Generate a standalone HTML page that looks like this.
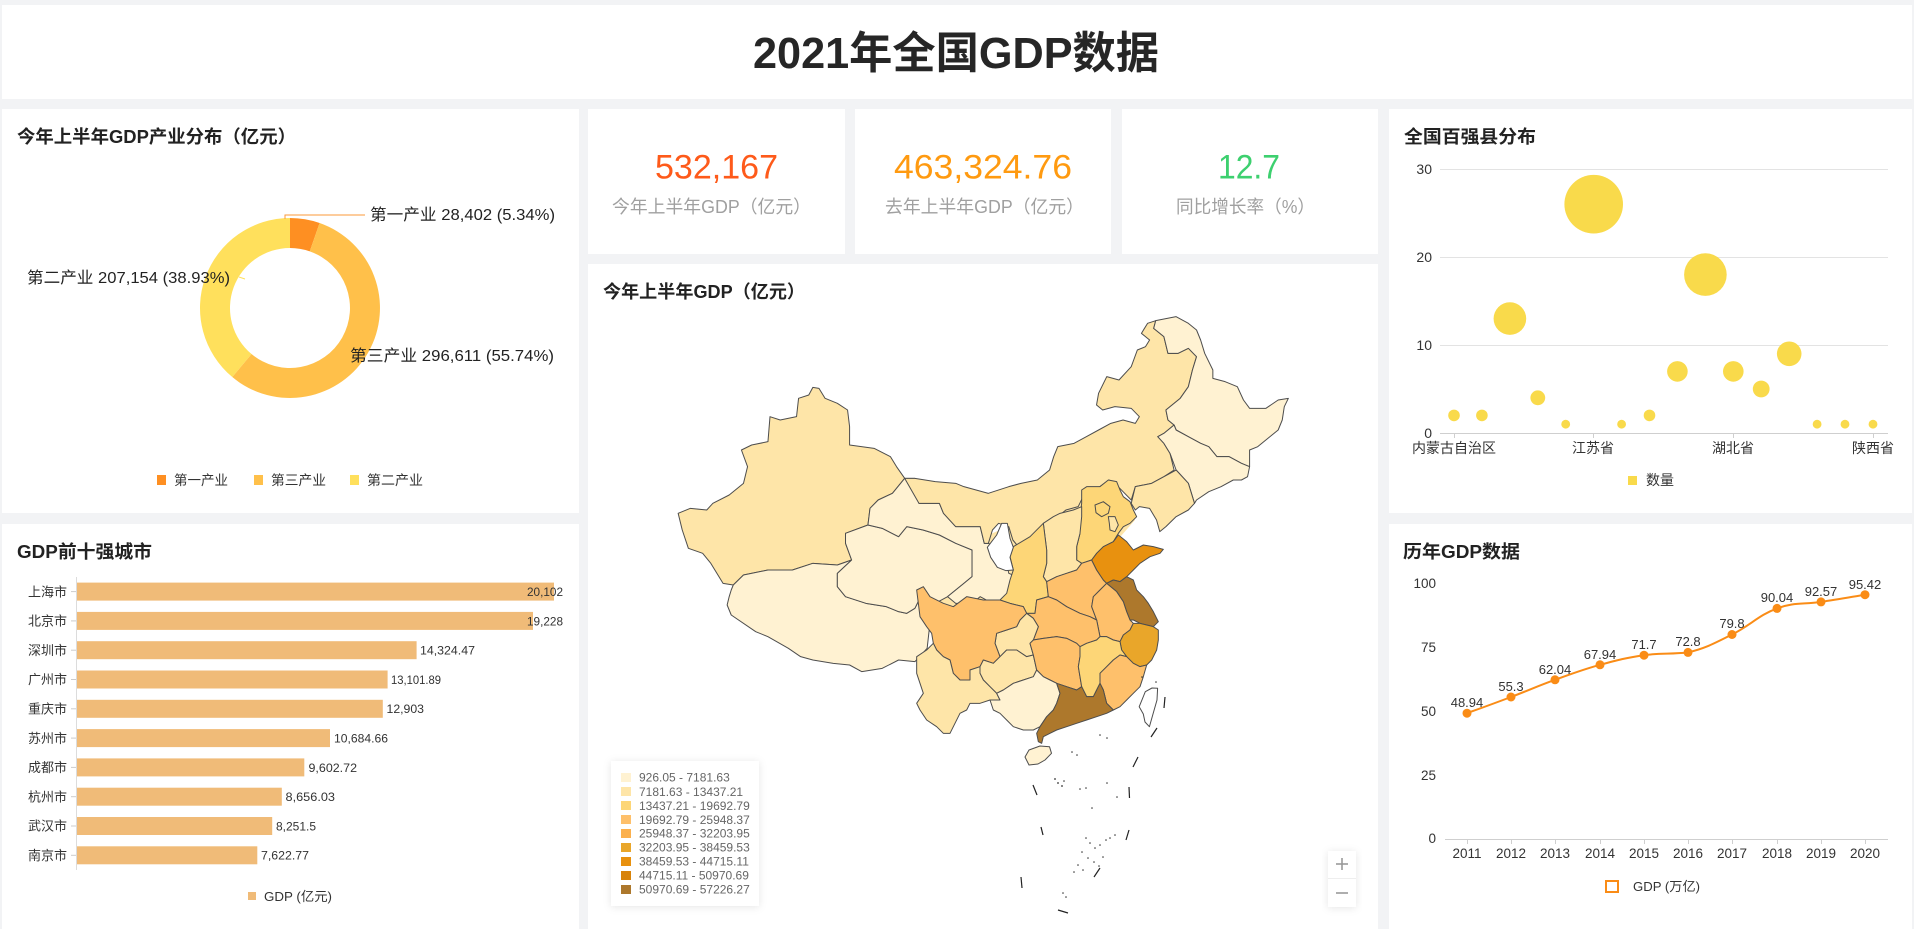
<!DOCTYPE html>
<html><head><meta charset="utf-8"><style>
html,body{margin:0;padding:0;background:#f2f3f5;}
svg{display:block}
text{font-family:"Liberation Sans","Noto Sans CJK SC",sans-serif;}
.p{stroke:#4d4d4d;stroke-width:1;vector-effect:non-scaling-stroke;stroke-linejoin:round}
.l1{fill:#fff2d2}.l2{fill:#fee5a8}.l3{fill:#fdd677}.l4{fill:#fec06b}.l6{fill:#e9a62a}.l7{fill:#e8910f}.l9{fill:#ad782c}
</style></head><body>
<svg width="1914" height="929" viewBox="0 0 1914 929" xmlns="http://www.w3.org/2000/svg">
<defs>
<filter id="sh" x="-20%" y="-20%" width="140%" height="140%"><feDropShadow dx="0" dy="1" stdDeviation="4" flood-color="#000" flood-opacity="0.1"/></filter>
</defs>
<rect width="1914" height="929" fill="#f2f3f5"/>
<!-- panels -->
<rect x="2" y="5" width="1910" height="94" fill="#fff"/>
<rect x="2" y="109" width="577" height="404" fill="#fff"/>
<rect x="588" y="109" width="257" height="145" fill="#fff"/>
<rect x="855" y="109" width="256" height="145" fill="#fff"/>
<rect x="1122" y="109" width="256" height="145" fill="#fff"/>
<rect x="1389" y="109" width="523" height="404" fill="#fff"/>
<rect x="588" y="264" width="790" height="670" fill="#fff"/>
<rect x="2" y="524" width="577" height="410" fill="#fff"/>
<rect x="1389" y="524" width="523" height="410" fill="#fff"/>

<!-- header -->
<text x="753" y="68" font-size="44" font-weight="bold" fill="#262626" textLength="406" lengthAdjust="spacingAndGlyphs">2021年全国GDP数据</text>

<!-- panel titles -->
<text x="17" y="143" font-size="18" font-weight="bold" fill="#222" textLength="279" lengthAdjust="spacingAndGlyphs">今年上半年GDP产业分布（亿元）</text>
<text x="603" y="298" font-size="18" font-weight="bold" fill="#222" textLength="202" lengthAdjust="spacingAndGlyphs">今年上半年GDP（亿元）</text>
<text x="1404" y="143" font-size="18" font-weight="bold" fill="#222" textLength="132" lengthAdjust="spacingAndGlyphs">全国百强县分布</text>
<text x="17" y="558" font-size="18" font-weight="bold" fill="#222" textLength="135" lengthAdjust="spacingAndGlyphs">GDP前十强城市</text>
<text x="1403" y="558" font-size="18" font-weight="bold" fill="#222" textLength="117" lengthAdjust="spacingAndGlyphs">历年GDP数据</text>

<!-- KPI -->
<text x="655" y="178.5" font-size="34" fill="#fe5a1a" textLength="123" lengthAdjust="spacingAndGlyphs">532,167</text>
<text x="612" y="213" font-size="18" fill="#a0a0a0" textLength="199" lengthAdjust="spacingAndGlyphs">今年上半年GDP（亿元）</text>
<text x="894" y="178.5" font-size="34" fill="#ff9a10" textLength="178" lengthAdjust="spacingAndGlyphs">463,324.76</text>
<text x="885" y="213" font-size="18" fill="#a0a0a0" textLength="199" lengthAdjust="spacingAndGlyphs">去年上半年GDP（亿元）</text>
<text x="1218" y="178.5" font-size="34" fill="#3dd06f" textLength="62" lengthAdjust="spacingAndGlyphs">12.7</text>
<text x="1176" y="213" font-size="18" fill="#a0a0a0" textLength="139" lengthAdjust="spacingAndGlyphs">同比增长率（%）</text>

<!-- donut -->
<path d="M290,218 A90,90 0 0 1 319.63,223.01 L309.75,251.34 A60,60 0 0 0 290,248 Z" fill="#fe8f22"/>
<path d="M319.63,223.01 A90,90 0 1 1 232.28,377.06 L251.52,354.04 A60,60 0 1 0 309.75,251.34 Z" fill="#ffc04a"/>
<path d="M232.28,377.06 A90,90 0 0 1 290,218 L290,248 A60,60 0 0 0 251.52,354.04 Z" fill="#ffe05c"/>
<polyline points="285,219 285,215 365,215" fill="none" stroke="#fb9a3a" stroke-width="1"/>
<line x1="239" y1="277" x2="245" y2="279" stroke="#ffe05c" stroke-width="1"/>
<text x="370" y="220" font-size="16" fill="#222" textLength="185" lengthAdjust="spacingAndGlyphs">第一产业 28,402 (5.34%)</text>
<text x="350" y="361" font-size="16" fill="#222" textLength="204" lengthAdjust="spacingAndGlyphs">第三产业 296,611 (55.74%)</text>
<text x="27" y="283" font-size="16" fill="#222" textLength="203" lengthAdjust="spacingAndGlyphs">第二产业 207,154 (38.93%)</text>
<rect x="157" y="475" width="9" height="10" fill="#fe8f22"/>
<text x="174" y="485" font-size="13.5" fill="#333" textLength="54" lengthAdjust="spacingAndGlyphs">第一产业</text>
<rect x="254" y="475" width="9" height="10" fill="#ffc04a"/>
<text x="271" y="485" font-size="13.5" fill="#333" textLength="55" lengthAdjust="spacingAndGlyphs">第三产业</text>
<rect x="350" y="475" width="9" height="10" fill="#ffe05c"/>
<text x="367" y="485" font-size="13.5" fill="#333" textLength="56" lengthAdjust="spacingAndGlyphs">第二产业</text>

<!-- scatter chart -->
<g stroke="#e3e3e3" stroke-width="1">
<line x1="1440" y1="169.5" x2="1888" y2="169.5"/>
<line x1="1440" y1="257.5" x2="1888" y2="257.5"/>
<line x1="1440" y1="345.5" x2="1888" y2="345.5"/>
</g>
<line x1="1440" y1="433.5" x2="1888" y2="433.5" stroke="#cfcfcf" stroke-width="1"/>
<g stroke="#cfcfcf" stroke-width="1">
<line x1="1454.5" y1="433" x2="1454.5" y2="438"/>
<line x1="1593.5" y1="433" x2="1593.5" y2="438"/>
<line x1="1733.5" y1="433" x2="1733.5" y2="438"/>
<line x1="1873.5" y1="433" x2="1873.5" y2="438"/>
</g>
<g font-size="14" fill="#333" text-anchor="end">
<text x="1432" y="174">30</text>
<text x="1432" y="262">20</text>
<text x="1432" y="350">10</text>
<text x="1432" y="438">0</text>
</g>
<g font-size="14" fill="#333" text-anchor="middle">
<text x="1454" y="453">内蒙古自治区</text>
<text x="1593" y="453">江苏省</text>
<text x="1733" y="453">湖北省</text>
<text x="1873" y="453">陕西省</text>
</g>
<g fill="#f9da4b">
<circle cx="1454" cy="415.4" r="5.8"/>
<circle cx="1481.9" cy="415.4" r="5.8"/>
<circle cx="1509.9" cy="318.6" r="16.3"/>
<circle cx="1537.8" cy="397.8" r="7.4"/>
<circle cx="1565.7" cy="424.2" r="4.4"/>
<circle cx="1593.7" cy="204.2" r="29.3"/>
<circle cx="1621.6" cy="424.2" r="4.4"/>
<circle cx="1649.5" cy="415.4" r="5.8"/>
<circle cx="1677.4" cy="371.4" r="10.3"/>
<circle cx="1705.4" cy="274.6" r="21.3"/>
<circle cx="1733.3" cy="371.4" r="10.3"/>
<circle cx="1761.2" cy="389" r="8.4"/>
<circle cx="1789.2" cy="353.8" r="12.3"/>
<circle cx="1817.1" cy="424.2" r="4.4"/>
<circle cx="1845" cy="424.2" r="4.4"/>
<circle cx="1873" cy="424.2" r="4.4"/>
</g>
<rect x="1628" y="476" width="9" height="9" fill="#f9da4b"/>
<text x="1646" y="485" font-size="14" fill="#333">数量</text>

<!-- bar chart -->
<line x1="76.5" y1="577" x2="76.5" y2="870" stroke="#dcdcdc" stroke-width="1"/>
<g fill="#f0bb78">
<rect x="77" y="582.6" width="477" height="18"/>
<rect x="77" y="611.9" width="456" height="18"/>
<rect x="77" y="641.2" width="339.6" height="18"/>
<rect x="77" y="670.5" width="310.6" height="18"/>
<rect x="77" y="699.8" width="305.8" height="18"/>
<rect x="77" y="729.1" width="253" height="18"/>
<rect x="77" y="758.4" width="227.3" height="18"/>
<rect x="77" y="787.7" width="204.8" height="18"/>
<rect x="77" y="817" width="195.2" height="18"/>
<rect x="77" y="846.3" width="180.3" height="18"/>
</g>
<g stroke="#ccc" stroke-width="1">
<line x1="71" y1="591.6" x2="76" y2="591.6"/><line x1="71" y1="620.9" x2="76" y2="620.9"/><line x1="71" y1="650.2" x2="76" y2="650.2"/><line x1="71" y1="679.5" x2="76" y2="679.5"/><line x1="71" y1="708.8" x2="76" y2="708.8"/><line x1="71" y1="738.1" x2="76" y2="738.1"/><line x1="71" y1="767.4" x2="76" y2="767.4"/><line x1="71" y1="796.7" x2="76" y2="796.7"/><line x1="71" y1="826" x2="76" y2="826"/><line x1="71" y1="855.3" x2="76" y2="855.3"/>
</g>
<g font-size="13" fill="#333" text-anchor="end">
<text x="67" y="596.3">上海市</text>
<text x="67" y="625.6">北京市</text>
<text x="67" y="654.9">深圳市</text>
<text x="67" y="684.2">广州市</text>
<text x="67" y="713.5">重庆市</text>
<text x="67" y="742.8">苏州市</text>
<text x="67" y="772.1">成都市</text>
<text x="67" y="801.4">杭州市</text>
<text x="67" y="830.7">武汉市</text>
<text x="67" y="860">南京市</text>
</g>
<g font-size="12" fill="#333">
<text x="527" y="596" textLength="36" lengthAdjust="spacingAndGlyphs">20,102</text>
<text x="527" y="625.3" textLength="36" lengthAdjust="spacingAndGlyphs">19,228</text>
<text x="420" y="654.6" textLength="55" lengthAdjust="spacingAndGlyphs">14,324.47</text>
<text x="391" y="683.9" textLength="50" lengthAdjust="spacingAndGlyphs">13,101.89</text>
<text x="386.5" y="713.2" textLength="37.5" lengthAdjust="spacingAndGlyphs">12,903</text>
<text x="334" y="742.5" textLength="54" lengthAdjust="spacingAndGlyphs">10,684.66</text>
<text x="308.5" y="771.8" textLength="48.5" lengthAdjust="spacingAndGlyphs">9,602.72</text>
<text x="285.5" y="801.1" textLength="49.5" lengthAdjust="spacingAndGlyphs">8,656.03</text>
<text x="276" y="830.4" textLength="40" lengthAdjust="spacingAndGlyphs">8,251.5</text>
<text x="261" y="859.7" textLength="48" lengthAdjust="spacingAndGlyphs">7,622.77</text>
</g>
<rect x="248" y="892" width="8" height="8" fill="#f0bb78"/>
<text x="264" y="901" font-size="13" fill="#333" textLength="68" lengthAdjust="spacingAndGlyphs">GDP (亿元)</text>

<!-- line chart -->
<line x1="1445" y1="839.5" x2="1888" y2="839.5" stroke="#cfcfcf" stroke-width="1"/>
<g stroke="#cfcfcf" stroke-width="1">
<line x1="1467.5" y1="839" x2="1467.5" y2="844"/><line x1="1511.5" y1="839" x2="1511.5" y2="844"/><line x1="1555.5" y1="839" x2="1555.5" y2="844"/><line x1="1600.5" y1="839" x2="1600.5" y2="844"/><line x1="1644.5" y1="839" x2="1644.5" y2="844"/><line x1="1688.5" y1="839" x2="1688.5" y2="844"/><line x1="1732.5" y1="839" x2="1732.5" y2="844"/><line x1="1777.5" y1="839" x2="1777.5" y2="844"/><line x1="1821.5" y1="839" x2="1821.5" y2="844"/><line x1="1865.5" y1="839" x2="1865.5" y2="844"/>
</g>
<g font-size="13.5" fill="#333" text-anchor="end">
<text x="1436" y="588">100</text>
<text x="1436" y="652">75</text>
<text x="1436" y="716">50</text>
<text x="1436" y="780">25</text>
<text x="1436" y="843">0</text>
</g>
<g font-size="13.5" fill="#333" text-anchor="middle">
<text x="1467" y="858">2011</text><text x="1511" y="858">2012</text><text x="1555" y="858">2013</text><text x="1600" y="858">2014</text><text x="1644" y="858">2015</text><text x="1688" y="858">2016</text><text x="1732" y="858">2017</text><text x="1777" y="858">2018</text><text x="1821" y="858">2019</text><text x="1865" y="858">2020</text>
</g>
<path d="M1467,713.2 C1475.8,710 1493.4,703.7 1511,697 C1528.6,690.3 1537.2,686.2 1555,679.8 C1572.8,673.4 1582.2,669.7 1600,664.8 C1617.8,659.9 1626.4,657.7 1644,655.2 C1661.6,652.7 1670.4,654.5 1688,652.4 C1705.6,648.3 1714.2,643.3 1732,634.5 C1749.8,625.7 1759.2,614.9 1777,608.4 C1794.8,601.9 1803.4,604.6 1821,601.9 C1838.6,599.2 1856.2,596.1 1865,594.7" fill="none" stroke="#fa8c16" stroke-width="2"/>
<g fill="#fa8c16">
<circle cx="1467" cy="713.2" r="4.5"/><circle cx="1511" cy="697" r="4.5"/><circle cx="1555" cy="679.8" r="4.5"/><circle cx="1600" cy="664.8" r="4.5"/><circle cx="1644" cy="655.2" r="4.5"/><circle cx="1688" cy="652.4" r="4.5"/><circle cx="1732" cy="634.5" r="4.5"/><circle cx="1777" cy="608.4" r="4.5"/><circle cx="1821" cy="601.9" r="4.5"/><circle cx="1865" cy="594.7" r="4.5"/>
</g>
<g font-size="13" fill="#333" text-anchor="middle">
<text x="1467" y="707">48.94</text><text x="1511" y="691">55.3</text><text x="1555" y="674">62.04</text><text x="1600" y="659">67.94</text><text x="1644" y="649">71.7</text><text x="1688" y="646">72.8</text><text x="1732" y="628">79.8</text><text x="1777" y="602">90.04</text><text x="1821" y="596">92.57</text><text x="1865" y="589">95.42</text>
</g>
<rect x="1606" y="881" width="12" height="11" fill="none" stroke="#fa8c16" stroke-width="2"/>
<text x="1633" y="891" font-size="13" fill="#333" textLength="67" lengthAdjust="spacingAndGlyphs">GDP (万亿)</text>

<!-- MAP -->
<polygon points="930,560 1000,530 1050,520 1090,490 1120,500 1135,520 1100,560 1060,600 1000,640 960,640 930,610" fill="#fee5a8"/>
<g transform="translate(670,310) scale(0.408163,0.333333)">
<polygon class="p l2" points="350,232 365,235 380,265 410,280 435,300 440,350 440,405 500,415 540,440 555,470 575,505 545,550 510,570 490,595 485,645 430,670 430,700 445,750 410,765 350,760 300,780 240,780 180,795 155,825 130,820 100,760 80,730 45,715 30,660 20,610 50,595 90,600 105,580 145,555 180,520 190,470 175,420 200,405 240,395 245,320 270,330 310,320 315,265 340,255"/>
<polygon class="p l1" points="155,825 180,795 240,780 300,780 350,760 410,765 445,750 410,790 410,830 430,860 480,880 530,890 560,905 580,910 600,895 610,870 625,900 635,960 630,1015 600,1055 560,1050 520,1075 470,1085 440,1065 400,1060 350,1050 320,1040 290,1015 240,980 210,965 150,915 140,885 145,860 150,840"/>
<polygon class="p l1" points="445,750 430,700 430,670 485,645 520,655 560,680 580,650 620,660 660,675 700,700 740,720 740,800 720,820 700,840 680,860 650,880 630,870 610,870 600,895 580,910 560,905 530,890 480,880 430,860 410,830 410,790"/>
<polygon class="p l1" points="575,505 600,505 610,580 660,580 670,610 700,650 760,650 770,700 780,700 800,710 820,730 830,790 850,800 840,830 810,880 790,880 760,860 740,880 700,880 680,860 700,840 720,820 740,800 740,720 700,700 660,675 620,660 580,650 560,680 520,655 485,645 490,595 510,570 545,550"/>
<polygon class="p l2" points="575,505 600,505 650,515 700,520 720,530 780,550 830,530 860,520 900,510 930,480 940,440 950,410 990,400 1020,380 1050,360 1080,340 1110,330 1140,340 1150,320 1130,295 1090,290 1060,300 1045,285 1050,250 1070,200 1100,210 1130,170 1145,120 1165,110 1175,90 1155,70 1170,40 1190,32 1185,55 1210,80 1220,130 1245,130 1270,115 1290,140 1280,180 1270,230 1250,265 1215,300 1220,330 1235,345 1210,370 1195,380 1210,400 1225,430 1235,480 1210,500 1180,520 1140,530 1130,570 1110,545 1090,520 1075,510 1055,528 1040,545 1020,535 1010,565 1000,590 970,600 950,620 930,640 910,670 880,690 850,705 840,690 830,650 805,640 790,660 780,700 770,700 760,650 700,650 670,610 660,580 610,580"/>
<polygon class="p l1" points="1190,32 1240,20 1270,40 1290,60 1300,90 1310,130 1330,180 1330,205 1360,215 1390,230 1405,270 1420,295 1460,295 1490,270 1515,265 1505,290 1500,330 1490,360 1470,380 1440,410 1420,420 1420,470 1400,460 1370,440 1340,440 1320,410 1300,400 1270,380 1240,360 1235,345 1220,330 1215,300 1250,265 1270,230 1280,180 1290,140 1270,115 1245,130 1220,130 1210,80 1185,55"/>
<polygon class="p l1" points="1235,345 1240,360 1270,380 1300,400 1320,410 1340,440 1370,440 1400,460 1420,470 1415,500 1400,510 1380,510 1350,530 1320,545 1290,570 1285,580 1270,520 1240,480 1225,430 1210,400 1195,380 1210,370"/>
<polygon class="p l2" points="1240,480 1270,520 1285,580 1270,600 1240,620 1215,650 1200,665 1192,630 1175,595 1150,590 1140,600 1130,580 1140,530 1180,520 1210,500"/>
</g>
<g transform="translate(900,470) scale(0.333333)">
<polygon class="p l3" points="545,60 560,50 600,50 625,30 650,35 660,60 670,80 690,95 700,120 710,140 690,160 670,170 655,190 640,215 610,230 590,250 575,270 545,280 530,270 530,230 540,190 540,140 545,100"/>
<polygon class="p l3" points="585,105 610,95 630,110 625,130 605,140 588,128"/>
<polygon class="p l2" points="625,140 645,140 655,165 645,185 630,180 628,160"/>
<polygon class="p l2" points="430,160 460,140 480,130 520,120 545,110 545,140 540,190 530,230 530,270 545,280 530,300 500,310 470,320 440,335 430,320 440,280 440,240 435,200"/>
<polygon class="p l3" points="340,230 390,200 430,160 435,200 440,240 440,280 430,320 440,335 445,380 410,390 405,430 380,430 370,410 330,400 300,390 320,370 330,330 340,300 330,260"/>
<polygon class="p" fill="#fff" points="262,232 290,195 305,160 322,160 330,205 340,232 330,262 340,300 318,302 292,292 272,262"/>
<polygon class="p l4" points="440,335 470,320 500,310 530,300 545,280 575,270 590,300 610,330 620,340 600,360 580,380 575,410 590,450 570,440 540,430 500,410 470,390 445,380"/>
<polygon class="p l7" points="575,270 590,250 610,230 640,215 655,195 680,215 700,240 730,225 760,230 790,238 780,250 750,260 720,280 700,300 680,320 660,335 640,330 620,340 610,330 590,300"/>
<polygon class="p l9" points="620,340 640,330 660,335 680,320 700,330 710,360 730,380 745,400 760,425 775,455 760,470 740,465 720,460 700,450 690,450 680,425 670,395 650,365"/>
<polygon class="p l4" points="580,380 600,360 620,340 650,365 670,395 680,425 690,450 700,460 690,480 670,495 660,515 640,510 620,500 600,500 590,450 575,410"/>
<polygon class="p l6" points="660,515 670,495 690,480 700,460 720,460 740,465 760,470 775,480 775,510 770,540 755,570 740,585 720,590 700,580 680,560 665,540"/>
<polygon class="p l4" points="380,430 405,430 410,390 445,380 470,390 500,410 540,430 570,440 590,450 600,500 590,510 560,520 540,530 530,520 500,505 470,500 430,505 400,510 415,470 400,445"/>
<polygon class="p l2" points="290,490 320,480 350,470 360,450 380,430 400,445 415,470 400,510 390,520 400,555 380,560 350,540 320,540 300,560 285,520"/>
<polygon class="p l4" points="50,360 70,350 90,380 130,400 160,410 200,380 250,390 300,390 330,400 370,410 380,430 360,450 350,470 320,480 290,490 285,520 300,560 280,580 250,570 240,590 210,600 210,630 180,630 160,610 150,570 130,560 110,540 100,520 95,490 80,470 60,440 55,400"/>
<polygon class="p l2" points="240,590 250,570 280,580 300,560 320,540 350,540 380,560 400,555 410,600 400,620 370,630 340,640 310,660 290,670 270,650 250,630 240,610"/>
<polygon class="p l2" points="50,560 80,540 100,520 110,540 130,560 150,570 160,610 180,630 210,630 210,600 240,590 240,610 250,630 270,650 290,670 300,690 270,690 240,700 210,700 200,720 180,730 165,760 150,790 130,790 110,770 80,750 60,720 50,700 70,670 60,640 50,610"/>
<polygon class="p l4" points="400,510 430,505 470,500 500,505 530,520 540,530 540,560 535,590 540,620 545,650 530,660 500,650 470,640 450,630 430,620 410,600 400,555 390,520"/>
<polygon class="p l3" points="540,530 560,520 590,510 600,500 620,500 640,510 660,515 665,540 680,560 660,555 640,570 620,590 600,610 600,640 590,660 580,680 560,680 545,650 540,620 535,590 540,560"/>
<polygon class="p l4" points="600,610 620,590 640,570 660,555 680,560 700,580 720,590 740,585 730,620 720,650 700,670 680,690 660,710 640,720 620,700 610,660 600,640"/>
<polygon class="p l1" points="290,670 310,660 340,640 370,630 400,620 410,600 430,620 450,630 470,640 480,670 470,700 460,720 440,740 420,770 400,780 370,780 340,770 320,750 300,730 280,720 270,690 300,690"/>
<polygon class="p l9" points="470,640 500,650 530,660 545,650 560,680 580,680 590,660 600,640 610,660 620,700 640,720 620,730 590,740 560,750 530,760 500,770 470,780 450,790 430,800 425,820 415,815 410,790 420,770 440,740 460,720 470,700 480,670"/>
</g>
<polygon class="p l1" points="1029,750 1040,746 1049.5,746.7 1051.5,753.3 1045,760 1038,764 1029,765 1025,757"/>
<polygon class="p" fill="#fff" points="1145.3,691.7 1152,688 1157.6,688.3 1157,700 1153,714 1149.4,726.7 1145,722 1143.3,714 1139.2,706.7"/>
<g stroke="#222" stroke-width="1.2" fill="none">
<line x1="1033" y1="785" x2="1037" y2="795"/>
<line x1="1041" y1="827" x2="1043" y2="835"/>
<line x1="1021" y1="877" x2="1022" y2="888"/>
<line x1="1058" y1="910" x2="1068" y2="913"/>
<line x1="1094" y1="877" x2="1100" y2="868"/>
<line x1="1129" y1="830" x2="1126" y2="840"/>
<line x1="1129" y1="787" x2="1129.5" y2="798"/>
<line x1="1133" y1="767" x2="1138" y2="757"/>
<line x1="1151" y1="737" x2="1157" y2="728"/>
<line x1="1165" y1="697" x2="1164" y2="708"/>
</g>
<g fill="#333">
<circle cx="1055" cy="779" r="0.9"/><circle cx="1058" cy="783" r="0.9"/><circle cx="1062" cy="786" r="0.9"/><circle cx="1064" cy="781" r="0.8"/><circle cx="1080" cy="789" r="0.8"/><circle cx="1086" cy="788" r="0.8"/><circle cx="1107" cy="783" r="0.8"/><circle cx="1117" cy="797" r="0.8"/><circle cx="1092" cy="808" r="0.8"/>
<circle cx="1086" cy="838" r="0.8"/><circle cx="1090" cy="843" r="0.8"/><circle cx="1095" cy="848" r="0.8"/><circle cx="1100" cy="845" r="0.8"/><circle cx="1106" cy="840" r="0.8"/><circle cx="1110" cy="838" r="0.8"/><circle cx="1082" cy="852" r="0.8"/><circle cx="1088" cy="858" r="0.8"/><circle cx="1094" cy="862" r="0.8"/><circle cx="1078" cy="865" r="0.8"/><circle cx="1074" cy="872" r="0.8"/><circle cx="1083" cy="870" r="0.8"/><circle cx="1099" cy="866" r="0.8"/><circle cx="1103" cy="857" r="0.8"/><circle cx="1115" cy="835" r="0.8"/><circle cx="1063" cy="893" r="0.8"/><circle cx="1066" cy="897" r="0.8"/><circle cx="1100" cy="735" r="0.8"/><circle cx="1107" cy="738" r="0.8"/><circle cx="1072" cy="752" r="0.8"/><circle cx="1077" cy="755" r="0.8"/><circle cx="1156" cy="682" r="0.8"/><circle cx="1142" cy="677" r="0.8"/>
</g>

<!-- map legend -->
<rect x="611" y="761" width="148" height="145" fill="#fff" filter="url(#sh)"/>
<rect x="621" y="773" width="10" height="9" fill="#fff2d2"/>
<rect x="621" y="787" width="10" height="9" fill="#fee5a8"/>
<rect x="621" y="801" width="10" height="9" fill="#fdd677"/>
<rect x="621" y="815" width="10" height="9" fill="#fec06b"/>
<rect x="621" y="829" width="10" height="9" fill="#fbb04d"/>
<rect x="621" y="843" width="10" height="9" fill="#e9a62a"/>
<rect x="621" y="857" width="10" height="9" fill="#e8910f"/>
<rect x="621" y="871" width="10" height="9" fill="#d8830a"/>
<rect x="621" y="885" width="10" height="9" fill="#ad782c"/>
<g font-size="12" fill="#666">
<text x="639" y="781.6">926.05 - 7181.63</text>
<text x="639" y="796">7181.63 - 13437.21</text>
<text x="639" y="810">13437.21 - 19692.79</text>
<text x="639" y="824">19692.79 - 25948.37</text>
<text x="639" y="837.6">25948.37 - 32203.95</text>
<text x="639" y="851.6">32203.95 - 38459.53</text>
<text x="639" y="865.6">38459.53 - 44715.11</text>
<text x="639" y="879.6">44715.11 - 50970.69</text>
<text x="639" y="893.6">50970.69 - 57226.27</text>
</g>

<!-- zoom controls -->
<rect x="1328" y="851" width="28" height="56" fill="#fff" filter="url(#sh)"/>
<line x1="1328" y1="878.5" x2="1356" y2="878.5" stroke="#eee" stroke-width="1"/>
<g stroke="#999" stroke-width="1.6">
<line x1="1336" y1="864" x2="1348" y2="864"/>
<line x1="1342" y1="858" x2="1342" y2="870"/>
<line x1="1336" y1="893" x2="1348" y2="893"/>
</g>
</svg>
</body></html>
